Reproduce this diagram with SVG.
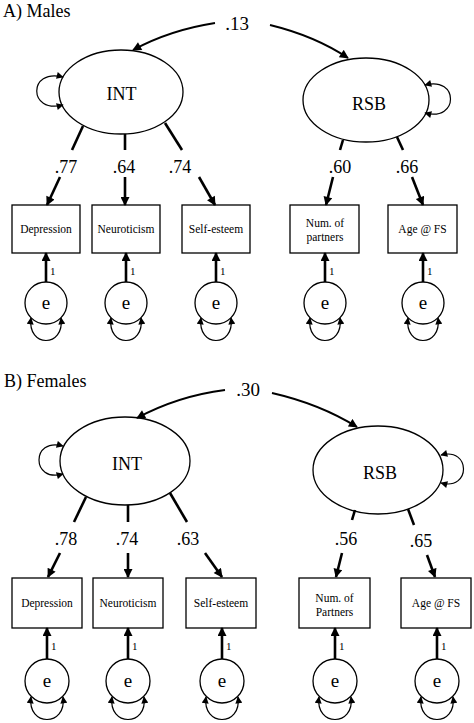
<svg xmlns="http://www.w3.org/2000/svg" width="474" height="723" viewBox="0 0 474 723" font-family="'Liberation Serif', 'Times New Roman', serif">
<defs>
<marker id="ah" viewBox="0 0 10 10" refX="9" refY="5" markerWidth="10" markerHeight="9" markerUnits="userSpaceOnUse" orient="auto-start-reverse"><path d="M0,0 L10,5 L0,10 z" fill="#000"/></marker>
<marker id="as" viewBox="0 0 10 10" refX="9" refY="5" markerWidth="8" markerHeight="7" markerUnits="userSpaceOnUse" orient="auto-start-reverse"><path d="M0,0 L10,5 L0,10 z" fill="#000"/></marker>
<style>
text{fill:#000;text-anchor:middle}
.title{font-size:18px;text-anchor:start}
.lat{font-size:18px}
.ld{font-size:18px}
.box{font-size:11.5px}
.e{font-size:19px}
.one{font-size:11px;text-anchor:start}
.shape{fill:#fff;stroke:#000;stroke-width:1.3}
.load{fill:none;stroke:#000;stroke-width:2.6}
.cov{fill:none;stroke:#000;stroke-width:1.9}
.loop{fill:none;stroke:#000;stroke-width:1.2}
</style>
</defs>
<rect width="474" height="723" fill="#fff"/>

<text class="title" x="3" y="17">A) Males</text>
<text class="title" x="4" y="387">B) Females</text>

<!-- Panel A nodes -->
<g id="A_INT"><ellipse class="shape" cx="121" cy="92" rx="62" ry="42"/><text class="lat" x="121.5" y="100">INT</text></g>
<g id="A_RSB"><ellipse class="shape" cx="366" cy="100" rx="63" ry="42"/><text class="lat" x="369" y="110">RSB</text></g>
<g id="A_dep"><rect class="shape" x="12" y="205" width="68" height="48"/><text class="box" x="46" y="233">Depression</text></g>
<g id="A_neu"><rect class="shape" x="92" y="205" width="68" height="48"/><text class="box" x="126" y="233">Neuroticism</text></g>
<g id="A_self"><rect class="shape" x="182" y="205" width="68" height="48"/><text class="box" x="216" y="233">Self-esteem</text></g>
<g id="A_num"><rect class="shape" x="290" y="205" width="69" height="48"/><text class="box" x="325" y="226.5">Num. of</text><text class="box" x="325" y="240.5">partners</text></g>
<g id="A_age"><rect class="shape" x="388" y="205" width="69" height="48"/><text class="box" x="422.5" y="233">Age @ FS</text></g>
<g id="A_e1"><circle class="shape" cx="46" cy="303" r="21"/><text class="e" x="46" y="309">e</text></g>
<g id="A_e2"><circle class="shape" cx="126" cy="303" r="21"/><text class="e" x="126" y="309">e</text></g>
<g id="A_e3"><circle class="shape" cx="216" cy="303" r="21"/><text class="e" x="216" y="309">e</text></g>
<g id="A_e4"><circle class="shape" cx="325" cy="303" r="21"/><text class="e" x="325" y="309">e</text></g>
<g id="A_e5"><circle class="shape" cx="423" cy="303" r="21"/><text class="e" x="423" y="309">e</text></g>

<!-- Panel B nodes -->
<g id="B_INT"><ellipse class="shape" cx="125" cy="461" rx="65" ry="44"/><text class="lat" x="127" y="470">INT</text></g>
<g id="B_RSB"><ellipse class="shape" cx="378" cy="470" rx="65" ry="44"/><text class="lat" x="380" y="479">RSB</text></g>
<g id="B_dep"><rect class="shape" x="12" y="578" width="70" height="50"/><text class="box" x="47" y="607">Depression</text></g>
<g id="B_neu"><rect class="shape" x="93" y="578" width="70" height="50"/><text class="box" x="128" y="607">Neuroticism</text></g>
<g id="B_self"><rect class="shape" x="186" y="578" width="70" height="50"/><text class="box" x="221" y="607">Self-esteem</text></g>
<g id="B_num"><rect class="shape" x="299" y="578" width="71" height="50"/><text class="box" x="334.5" y="601.5">Num. of</text><text class="box" x="334.5" y="616">Partners</text></g>
<g id="B_age"><rect class="shape" x="401" y="578" width="70" height="50"/><text class="box" x="436" y="607">Age @ FS</text></g>
<g id="B_e1"><circle class="shape" cx="47" cy="681" r="22"/><text class="e" x="47" y="687">e</text></g>
<g id="B_e2"><circle class="shape" cx="128" cy="681" r="22"/><text class="e" x="128" y="687">e</text></g>
<g id="B_e3"><circle class="shape" cx="222" cy="681" r="22"/><text class="e" x="222" y="687">e</text></g>
<g id="B_e4"><circle class="shape" cx="335" cy="681" r="22"/><text class="e" x="335" y="687">e</text></g>
<g id="B_e5"><circle class="shape" cx="437" cy="681" r="22"/><text class="e" x="437" y="687">e</text></g>

<g id="connectors">
<!-- Panel A covariance -->
<path class="cov" d="M215,23 Q170,30 133,50" marker-end="url(#ah)"/>
<path class="cov" d="M270,25 Q315,36 348,58" marker-end="url(#ah)"/>
<text class="ld" x="237" y="30" style="font-size:19px">.13</text>
<!-- Panel A variance loops -->
<path class="loop" d="M63,77 C28,68 28,114 63,105" marker-start="url(#as)" marker-end="url(#as)"/>
<path class="loop" d="M425,85 C459,76 459,122 425,113" marker-start="url(#as)" marker-end="url(#as)"/>
<!-- Panel A loadings -->
<path class="load" d="M83,126 L72,150"/>
<path class="load" d="M60,177 L47,205" marker-end="url(#ah)"/>
<path class="load" d="M125,134 L125,150"/>
<path class="load" d="M125,177 L125,205" marker-end="url(#ah)"/>
<path class="load" d="M165,123 L182,150"/>
<path class="load" d="M199,177 L215,205" marker-end="url(#ah)"/>
<path class="load" d="M343,140 L340,150"/>
<path class="load" d="M333,177 L326,205" marker-end="url(#ah)"/>
<path class="load" d="M397,137 L403,150"/>
<path class="load" d="M412,177 L423,205" marker-end="url(#ah)"/>
<text class="ld" x="66" y="173">.77</text>
<text class="ld" x="124" y="173">.64</text>
<text class="ld" x="180" y="173">.74</text>
<text class="ld" x="340" y="173">.60</text>
<text class="ld" x="407" y="173">.66</text>
<!-- Panel A error paths -->
<path class="load" d="M46,282 L46,253" marker-end="url(#ah)"/>
<path class="load" d="M126,282 L126,253" marker-end="url(#ah)"/>
<path class="load" d="M216,282 L216,253" marker-end="url(#ah)"/>
<path class="load" d="M325,282 L325,253" marker-end="url(#ah)"/>
<path class="load" d="M423,282 L423,253" marker-end="url(#ah)"/>
<text class="one" x="50" y="275">1</text>
<text class="one" x="130" y="275">1</text>
<text class="one" x="220" y="275">1</text>
<text class="one" x="329" y="275">1</text>
<text class="one" x="427" y="275">1</text>
<path class="loop" d="M31,318 C27,348 65,348 61,318" marker-start="url(#as)" marker-end="url(#as)"/>
<path class="loop" d="M111,318 C107,348 145,348 141,318" marker-start="url(#as)" marker-end="url(#as)"/>
<path class="loop" d="M201,318 C197,348 235,348 231,318" marker-start="url(#as)" marker-end="url(#as)"/>
<path class="loop" d="M310,318 C306,348 344,348 340,318" marker-start="url(#as)" marker-end="url(#as)"/>
<path class="loop" d="M408,318 C404,348 442,348 438,318" marker-start="url(#as)" marker-end="url(#as)"/>

<!-- Panel B covariance -->
<path class="cov" d="M225,390 Q178,396 137,418" marker-end="url(#ah)"/>
<path class="cov" d="M272,393 Q320,404 357,427" marker-end="url(#ah)"/>
<text class="ld" x="248" y="396" style="font-size:19px">.30</text>
<!-- Panel B variance loops -->
<path class="loop" d="M63,446 C31,437 31,483 63,474" marker-start="url(#as)" marker-end="url(#as)"/>
<path class="loop" d="M441,455 C471,447 471,491 441,483" marker-start="url(#as)" marker-end="url(#as)"/>
<!-- Panel B loadings -->
<path class="load" d="M86,497 L74,522"/>
<path class="load" d="M60,553 L48,577" marker-end="url(#ah)"/>
<path class="load" d="M128,505 L128,522"/>
<path class="load" d="M128,553 L128,577" marker-end="url(#ah)"/>
<path class="load" d="M170,493 L187,522"/>
<path class="load" d="M205,553 L222,577" marker-end="url(#ah)"/>
<path class="load" d="M355,510 L352,520"/>
<path class="load" d="M342,553 L336,577" marker-end="url(#ah)"/>
<path class="load" d="M408,509 L414,525"/>
<path class="load" d="M427,555 L435,577" marker-end="url(#ah)"/>
<text class="ld" x="66" y="545">.78</text>
<text class="ld" x="127" y="545">.74</text>
<text class="ld" x="188" y="545">.63</text>
<text class="ld" x="346" y="545">.56</text>
<text class="ld" x="421" y="547">.65</text>
<!-- Panel B error paths -->
<path class="load" d="M47,659 L47,628" marker-end="url(#ah)"/>
<path class="load" d="M128,659 L128,628" marker-end="url(#ah)"/>
<path class="load" d="M222,659 L222,628" marker-end="url(#ah)"/>
<path class="load" d="M335,659 L335,628" marker-end="url(#ah)"/>
<path class="load" d="M437,659 L437,628" marker-end="url(#ah)"/>
<text class="one" x="51" y="650">1</text>
<text class="one" x="132" y="650">1</text>
<text class="one" x="226" y="650">1</text>
<text class="one" x="339" y="650">1</text>
<text class="one" x="441" y="650">1</text>
<path class="loop" d="M31,697 C27,727 67,727 63,697" marker-start="url(#as)" marker-end="url(#as)"/>
<path class="loop" d="M112,697 C108,727 148,727 144,697" marker-start="url(#as)" marker-end="url(#as)"/>
<path class="loop" d="M206,697 C202,727 242,727 238,697" marker-start="url(#as)" marker-end="url(#as)"/>
<path class="loop" d="M319,697 C315,727 355,727 351,697" marker-start="url(#as)" marker-end="url(#as)"/>
<path class="loop" d="M421,697 C417,727 457,727 453,697" marker-start="url(#as)" marker-end="url(#as)"/>
</g>
</svg>
